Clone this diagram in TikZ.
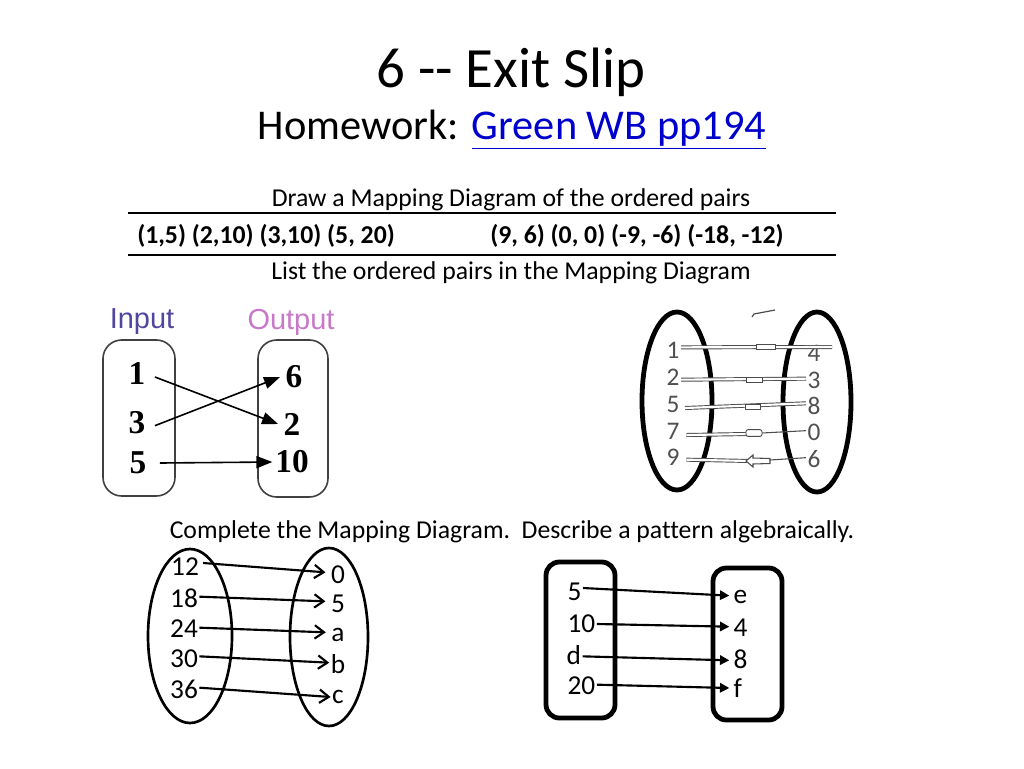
\documentclass[tikz,border=0pt]{standalone}
\usepackage{fontspec}
\setmainfont{Carlito}[Ligatures={TeX,NoCommon}]
\newfontfamily\serifb{Liberation Serif}
\newfontfamily\arialf{Liberation Sans}
\usetikzlibrary{arrows.meta}
\definecolor{linkblue}{RGB}{0,0,204}
\definecolor{inputc}{RGB}{80,70,160}
\definecolor{outputc}{RGB}{200,120,200}
\definecolor{graytxt}{RGB}{80,80,80}
\tikzset{
  body/.style={font=\fontsize{19.3}{23}\selectfont, inner sep=0pt},
  pairs/.style={font=\bfseries\fontsize{19.3}{23}\selectfont, inner sep=0pt, anchor=west},
  rule/.style={line width=1pt},
  serifnum/.style={font=\serifb\bfseries\fontsize{25}{27}\selectfont, inner sep=1pt},
  panelbox/.style={line width=1.2pt, draw=black!75, rounded corners=14},
  panelarrow/.style={line width=1.2pt, -{Triangle[length=12pt,width=9pt]}},
  grynum/.style={font=\fontsize{19}{21}\selectfont, text=graytxt, inner sep=1pt},
  thickoval/.style={line width=3.6pt},
  dblline/.style={double=white, draw=black!70, double distance=1.6pt, line width=0.7pt},
  smallbox/.style={draw=black!70, line width=0.7pt, fill=white, minimum width=14pt, minimum height=3.8pt, inner sep=0pt},
  bignum/.style={font=\fontsize{20.5}{23}\selectfont, inner sep=1pt},
  oval/.style={line width=2pt},
  ovalarrow/.style={line width=1.6pt, -{Straight Barb[length=7pt,width=10pt]}},
  thickbox/.style={line width=3.6pt, rounded corners=10},
  boxarrow/.style={line width=1.6pt, -{Triangle[length=7pt,width=7pt]}}
}
\begin{document}
\begin{tikzpicture}[x=0.75pt,y=-0.75pt]
\useasboundingbox (0,0) rectangle (1024,768);
\fill[white] (0,0) rectangle (1024,768);

% titles
\node[inner sep=0pt, font=\fontsize{42.7}{50}\selectfont] (title) at (511,72) {6 -{}- Exit Slip};
\node[inner sep=0pt, font=\fontsize{31.8}{38}\selectfont] (hw) at (512,130) {Homework: \textcolor{linkblue}{\underline{Green WB pp194}}};

% instructions
\node[body] (draw1) at (511,200) {Draw a Mapping Diagram of the ordered pairs};
\draw[rule] (128,213) -- (836,213);
\node[pairs] (pairsA) at (137,236) {(1,5) (2,10) (3,10) (5, 20)};
\node[pairs] (pairsB) at (490,236) {(9, 6) (0, 0) (-9, -6) (-18, -12)};
\draw[rule] (128,255) -- (836,255);
\node[body] (list1) at (511,273) {List the ordered pairs in the Mapping Diagram};

% left panel
\node[inner sep=0pt, font=\arialf\fontsize{21.7}{24}\selectfont, text=inputc] (inlab) at (142,322) {Input};
\node[inner sep=0pt, font=\arialf\fontsize{21.7}{24}\selectfont, text=outputc] (outlab) at (291,322) {Output};
\draw[panelbox] (103,340) rectangle (175,496);
\draw[panelbox] (258,340) rectangle (328,497);
\node[serifnum] (a1) at (137,373) {1};
\node[serifnum] (a3) at (137,423) {3};
\node[serifnum] (a5) at (138,463) {5};
\node[serifnum] (b6) at (294,377) {6};
\node[serifnum] (b2) at (292,424) {2};
\node[serifnum] (b10) at (292,462) {10};
\draw[panelarrow] ([xshift=6pt,yshift=-3pt]a1.east) -- ([xshift=-3pt]b2.west);
\draw[panelarrow] ([xshift=6pt,yshift=-2pt]a3.east) -- ([xshift=-3pt]b6.west);
\draw[panelarrow] ([xshift=9pt]a5.east) -- ([xshift=-1pt]b10.west);

% top-right diagram
\draw[thickoval] (677,401) ellipse [x radius=35, y radius=89];
\draw[thickoval] (817,402) ellipse [x radius=34, y radius=90];
\node[grynum] (c1) at (673,350) {1};
\node[grynum] (c2) at (673,377) {2};
\node[grynum] (c5) at (673,404) {5};
\node[grynum] (c7) at (673,431) {7};
\node[grynum] (c9) at (673,457) {9};
\node[grynum] (d4) at (814,353) {4};
\node[grynum] (d3) at (814,380) {3};
\node[grynum] (d8) at (814,406) {8};
\node[grynum] (d0) at (814,432) {0};
\node[grynum] (d6) at (814,459) {6};
\coordinate (d4e) at (832,347);
\draw[dblline] ([yshift=2pt]c1.east) -- (d4e);
\node[smallbox] (m1) at (766,347) {};
\draw[dblline] ([yshift=-2pt]c2.east) -- ([yshift=1pt]d3.west);
\node[smallbox, minimum width=12pt] (m2) at (754,380) {};
\draw[dblline] ([xshift=3pt,yshift=-3pt]c5.east) -- ([yshift=2pt]d8.west);
\node[smallbox, minimum width=11pt] (m3) at (753,407) {};
\draw[dblline] ([xshift=4pt,yshift=-3pt]c7.east) -- (748,434);
\draw[line width=0.8pt, draw=black!70] (762,433) -- ([yshift=1pt]d0.west);
\node[smallbox, minimum width=12pt, minimum height=5pt, rounded corners=1.5pt] (m4) at (754,433) {};
\draw[dblline] ([xshift=4pt,yshift=-2pt]c9.east) -- (750,461);
\draw[line width=0.8pt, draw=black!70, fill=white] (746,461) -- (753,455) -- (753,458) -- (770,458.5) -- (770,463.5) -- (753,464) -- (753,467) -- cycle;
\draw[line width=0.8pt, draw=black!70] (770,460) -- ([yshift=1pt]d6.west);
\draw[line width=0.9pt, draw=black!70] (752,317) -- (754,314) -- (775,310);

% bottom caption
\node[body] (complete) at (512,532) {Complete the Mapping Diagram.\ \ Describe a pattern algebraically.};

% bottom-left ovals
\draw[oval] (190,636) ellipse [x radius=42, y radius=87];
\draw[oval] (329,637) ellipse [x radius=39, y radius=89];
\node[bignum] (e12) at (185,567) {12};
\node[bignum] (e18) at (184,598) {18};
\node[bignum] (e24) at (184,629) {24};
\node[bignum] (e30) at (184,659) {30};
\node[bignum] (e36) at (184,689) {36};
\node[bignum] (f0) at (338,575) {0};
\node[bignum] (f5) at (338,604) {5};
\node[bignum] (fa) at (338,635) {a};
\node[bignum] (fb) at (338,664) {b};
\node[bignum] (fc) at (338,697) {c};
\draw[ovalarrow] ([xshift=2pt,yshift=3pt]e12.east) -- ([xshift=-3pt,yshift=2pt]f0.west);
\draw[ovalarrow] ([yshift=1pt]e18.east) -- ([xshift=-3pt,yshift=2pt]f5.west);
\draw[ovalarrow] ([yshift=1pt]e24.east) -- ([xshift=-3pt,yshift=2pt]fa.west);
\draw[ovalarrow] ([yshift=2pt]e30.east) -- ([yshift=1pt]fb.west);
\draw[ovalarrow] ([yshift=1pt]e36.east) -- (fc.west);

% bottom-right boxes
\draw[thickbox] (546,562) rectangle (615,718);
\draw[thickbox] (713,568) rectangle (782,720);
\node[bignum, anchor=west] (g5) at (566,592) {5};
\node[bignum, anchor=west] (g10) at (566,624) {10};
\node[bignum, anchor=west] (gd) at (565,655) {d};
\node[bignum, anchor=west] (g20) at (566,686) {20};
\node[bignum, anchor=west] (he) at (732,597) {e};
\node[bignum, anchor=west] (h4) at (732,628) {4};
\node[bignum, anchor=west] (h8) at (732,659) {8};
\node[bignum, anchor=west] (hf) at (732,688) {f};
\draw[boxarrow] ([yshift=3pt]g5.east) -- ([xshift=-2pt,yshift=1pt]he.west);
\draw[boxarrow] (g10.east) -- ([xshift=-2pt,yshift=1pt]h4.west);
\draw[boxarrow] ([yshift=-1pt]gd.east) -- ([xshift=-2pt,yshift=-1pt]h8.west);
\draw[boxarrow] ([yshift=1pt]g20.east) -- ([xshift=-2pt]hf.west);
\end{tikzpicture}
\end{document}
